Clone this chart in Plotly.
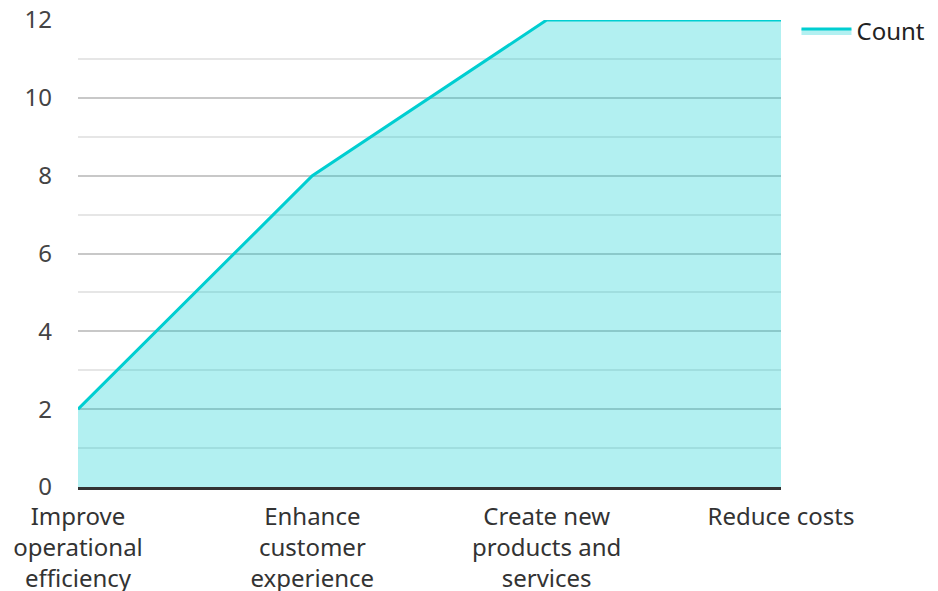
import plotly.graph_objects as go

categories = ["Improve<br>operational<br>efficiency", "Enhance<br>customer<br>experience",
              "Create new<br>products and<br>services", "Reduce costs"]
counts = [2, 8, 12, 12]
y_ticks = [0, 2, 4, 6, 8, 10, 12]

FONT = "Noto Sans"

fig = go.Figure()
fig.add_trace(go.Scatter(
    x=list(range(len(categories))), y=counts, name="Count",
    mode="lines", line=dict(color="#00CED1", width=3),
    fill="tozeroy", fillcolor="rgba(0,206,209,0.30)",
))

fig.update_layout(
    width=930, height=583,
    margin=dict(l=70, r=157, t=12, b=104, autoexpand=False),
    paper_bgcolor="white", plot_bgcolor="white",
    font=dict(family=FONT, size=24, color="#333333"),
    showlegend=True,
    legend=dict(x=1.022, y=1.024, xanchor="left", yanchor="top",
                font=dict(size=24, color="#222222"), bgcolor="rgba(0,0,0,0)",
                itemwidth=50),
)
fig.update_xaxes(
    range=[0, 3], tickmode="array", tickvals=list(range(len(categories))),
    ticktext=categories, showgrid=False, zeroline=False, automargin=False,
    showline=True, linecolor="#333333", linewidth=3,
    ticks="", ticklabelstandoff=6, ticklabeloverflow="allow",
    tickfont=dict(size=24, color="#333333"),
)
fig.update_yaxes(
    range=[0, 12], tickmode="array", tickvals=y_ticks, automargin=False,
    showgrid=True, gridcolor="#C8C8C8", gridwidth=1.5,
    minor=dict(dtick=1, showgrid=True, gridcolor="#E6E6E6", gridwidth=1.5),
    zeroline=False, showline=False, ticks="",
    ticklabelstandoff=25, ticklabeloverflow="allow",
    tickfont=dict(size=24, color="#444444"),
)

fig.write_html("out.html")
